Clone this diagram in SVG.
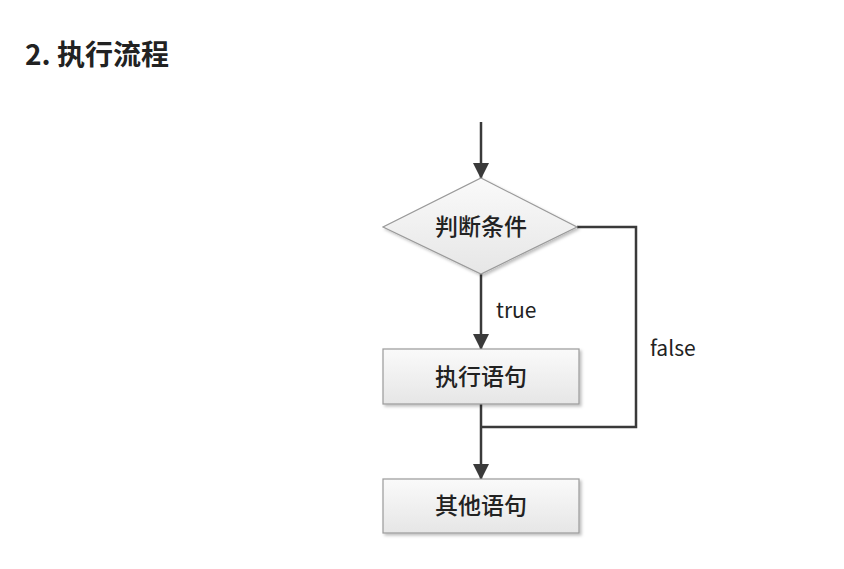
<svg xmlns="http://www.w3.org/2000/svg" width="844" height="569" viewBox="0 0 844 569">
<style>
.t{font-family:"Noto Sans CJK SC","Liberation Sans",sans-serif;fill:#222}
.n{font-size:23px;font-weight:500;text-anchor:middle}
.ln{stroke:#3a3a3a;stroke-width:2.5;fill:none}
.shape{stroke:#9a9a9a;stroke-width:1.2}
</style>
<defs>
<linearGradient id="g" x1="0" y1="0" x2="0" y2="1"><stop offset="0" stop-color="#fafafa"/><stop offset="1" stop-color="#e6e6e6"/></linearGradient>
<filter id="sh" x="-10%" y="-10%" width="130%" height="140%"><feDropShadow dx="2" dy="2" stdDeviation="1.5" flood-color="#000" flood-opacity="0.25"/></filter>
<marker id="a" markerWidth="16" markerHeight="16" refX="15" refY="8" orient="auto" markerUnits="userSpaceOnUse"><path d="M0,0 L16,8 L0,16 Z" fill="#3a3a3a"/></marker>
</defs>
<rect width="844" height="569" fill="#fff"/>
<text class="t" x="25" y="65" font-size="28" font-weight="bold" fill="#111">2. 执行流程</text>
<g id="connectors">
<line class="ln" x1="481" y1="122" x2="481" y2="178" marker-end="url(#a)"/>
<line class="ln" x1="481" y1="274" x2="481" y2="349" marker-end="url(#a)"/>
<polyline class="ln" points="577,227 636,227 636,427 481,427"/>
<line class="ln" x1="481" y1="404" x2="481" y2="479" marker-end="url(#a)"/>
<text class="t" x="496" y="318" font-size="21" font-family="Open Sans,sans-serif">true</text>
<text class="t" x="650" y="356" font-size="21" font-family="Open Sans,sans-serif">false</text>
</g>
<g id="cond"><polygon class="shape" points="481,178 577,227 481,274 383,227" fill="url(#g)" filter="url(#sh)"/><text class="t n" x="481" y="235">判断条件</text></g>
<g id="exec"><rect class="shape" x="383" y="349" width="196" height="55" fill="url(#g)" filter="url(#sh)"/><text class="t n" x="481" y="385">执行语句</text></g>
<g id="other"><rect class="shape" x="383" y="479" width="196" height="54" fill="url(#g)" filter="url(#sh)"/><text class="t n" x="481" y="514">其他语句</text></g>
</svg>
